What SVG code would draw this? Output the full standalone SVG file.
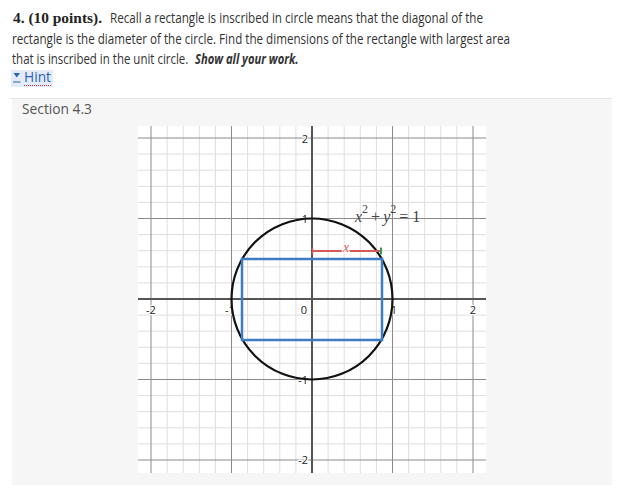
<svg xmlns="http://www.w3.org/2000/svg" width="625" height="490" viewBox="0 0 625 490">
<style>
.body{font-family:"Open Sans","Liberation Sans",sans-serif;font-size:14px;fill:#333}
.tick{font-family:"Open Sans","Liberation Sans",sans-serif;font-size:11px;fill:#222;stroke:#fff;stroke-width:2.5;paint-order:stroke;stroke-linejoin:round}
.minor{stroke:#dedede;stroke-width:1;fill:none}
.major{stroke:#8a8a8a;stroke-width:1;fill:none}
.axis{stroke:#555;stroke-width:2;fill:none}
.eq{font-family:"Liberation Serif","DejaVu Serif",serif;font-style:italic;font-size:16px;fill:#444}
</style>
<rect width="625" height="490" fill="#fff"/>
<g id="header">
<text x="13" y="23" font-family="Liberation Serif, serif" font-weight="bold" font-size="15" fill="#222" textLength="89" lengthAdjust="spacingAndGlyphs">4.  (10 points).</text>
<text class="body" x="110" y="23" textLength="373" lengthAdjust="spacingAndGlyphs">Recall a rectangle is inscribed in circle means that the diagonal of the</text>
<text class="body" x="12" y="43.5" textLength="498" lengthAdjust="spacingAndGlyphs">rectangle is the diameter of the circle. Find the dimensions of the rectangle with largest area</text>
<text class="body" transform="translate(12,63.5) scale(0.82,1)">that is inscribed in the unit circle.</text>
<text class="body" transform="translate(195,63.5) scale(0.8,1)" font-weight="bold" font-style="italic" fill="#222">Show all your work.</text>
</g>
<g id="hint">
<rect x="11" y="70" width="42" height="17" fill="#e3ebf8"/>
<path d="M13.5 73 L20 73 L16.75 77.5 Z" fill="#2a64b4"/>
<line x1="13" y1="82" x2="20.5" y2="82" stroke="#2a64b4" stroke-width="1"/>
<text x="24" y="82" font-family="Open Sans, Liberation Sans, sans-serif" font-size="14" fill="#2a64b4" textLength="27" lengthAdjust="spacingAndGlyphs">Hint</text>
<line x1="24" y1="85.5" x2="51" y2="85.5" stroke="#d03030" stroke-width="1" stroke-dasharray="1,1"/>
</g>
<line x1="10" y1="98.5" x2="612" y2="98.5" stroke="#e6e6e6" stroke-width="1"/>
<g id="panel">
<rect x="12" y="99" width="600" height="386" fill="#f6f6f6"/>
<text x="22" y="113.5" font-family="Open Sans, Liberation Sans, sans-serif" font-size="14" fill="#555" textLength="70" lengthAdjust="spacingAndGlyphs">Section 4.3</text>
</g>
<g id="graph">
<rect x="138" y="126" width="348" height="347" fill="#fff"/>
<path class="minor" d="M167.1 126V473M183.2 126V473M199.3 126V473M215.4 126V473M247.6 126V473M263.7 126V473M279.8 126V473M295.9 126V473M328.1 126V473M344.2 126V473M360.3 126V473M376.4 126V473M408.6 126V473M424.7 126V473M440.8 126V473M456.9 126V473M138 154.1H486M138 170.2H486M138 186.3H486M138 202.4H486M138 234.6H486M138 250.7H486M138 266.8H486M138 282.9H486M138 315.1H486M138 331.2H486M138 347.3H486M138 363.4H486M138 395.6H486M138 411.7H486M138 427.8H486M138 443.9H486"/>
<path class="major" d="M151 126V473M231.5 126V473M392.5 126V473M473 126V473M138 138H486M138 218.5H486M138 379.5H486M138 460H486"/>
<path class="axis" d="M312 126V473M138 299H486"/>
<g id="ticks">
<text class="tick" x="308" y="143" text-anchor="end">2</text>
<text class="tick" x="308" y="222.5" text-anchor="end">1</text>
<text class="tick" x="308" y="383.5" text-anchor="end">-1</text>
<text class="tick" x="308" y="464" text-anchor="end">-2</text>
<text class="tick" x="151" y="314" text-anchor="middle">-2</text>
<text class="tick" x="230" y="314" text-anchor="middle">-1</text>
<text class="tick" x="304" y="314" text-anchor="middle">0</text>
<text class="tick" x="394" y="314" text-anchor="middle">1</text>
<text class="tick" x="473" y="314" text-anchor="middle">2</text>
</g>
</g>
<g id="circle">
<circle cx="312" cy="299" r="80.5" fill="none" stroke="#111" stroke-width="2.2"/>
</g>
<g id="rectangle">
<rect x="242" y="259" width="140" height="81" fill="none" stroke="#3d7cc4" stroke-width="2.5"/>
</g>
<g id="connectors">
<line x1="312" y1="251" x2="381" y2="251" stroke="#d45a5a" stroke-width="2"/>
<line x1="312.5" y1="247.5" x2="312.5" y2="254.5" stroke="#d45a5a" stroke-width="1.5"/>
<line x1="381" y1="247.5" x2="381" y2="254.5" stroke="#3a9a4a" stroke-width="2"/>
</g>
<g id="xlabel">
<text x="346" y="252" font-family="Liberation Serif, serif" font-style="italic" font-size="14" fill="#d45a5a" stroke="#fff" stroke-width="2" paint-order="stroke" text-anchor="middle">x</text>
</g>
<g id="equation">
<text class="eq" x="355" y="222">x<tspan dy="-9" font-size="12" font-style="normal">2</tspan><tspan dy="9" font-style="normal" dx="3">+</tspan><tspan dx="3">y</tspan><tspan dy="-9" font-size="12" font-style="normal">2</tspan><tspan dy="9" dx="3" font-style="normal">= 1</tspan></text>
</g>
</svg>
